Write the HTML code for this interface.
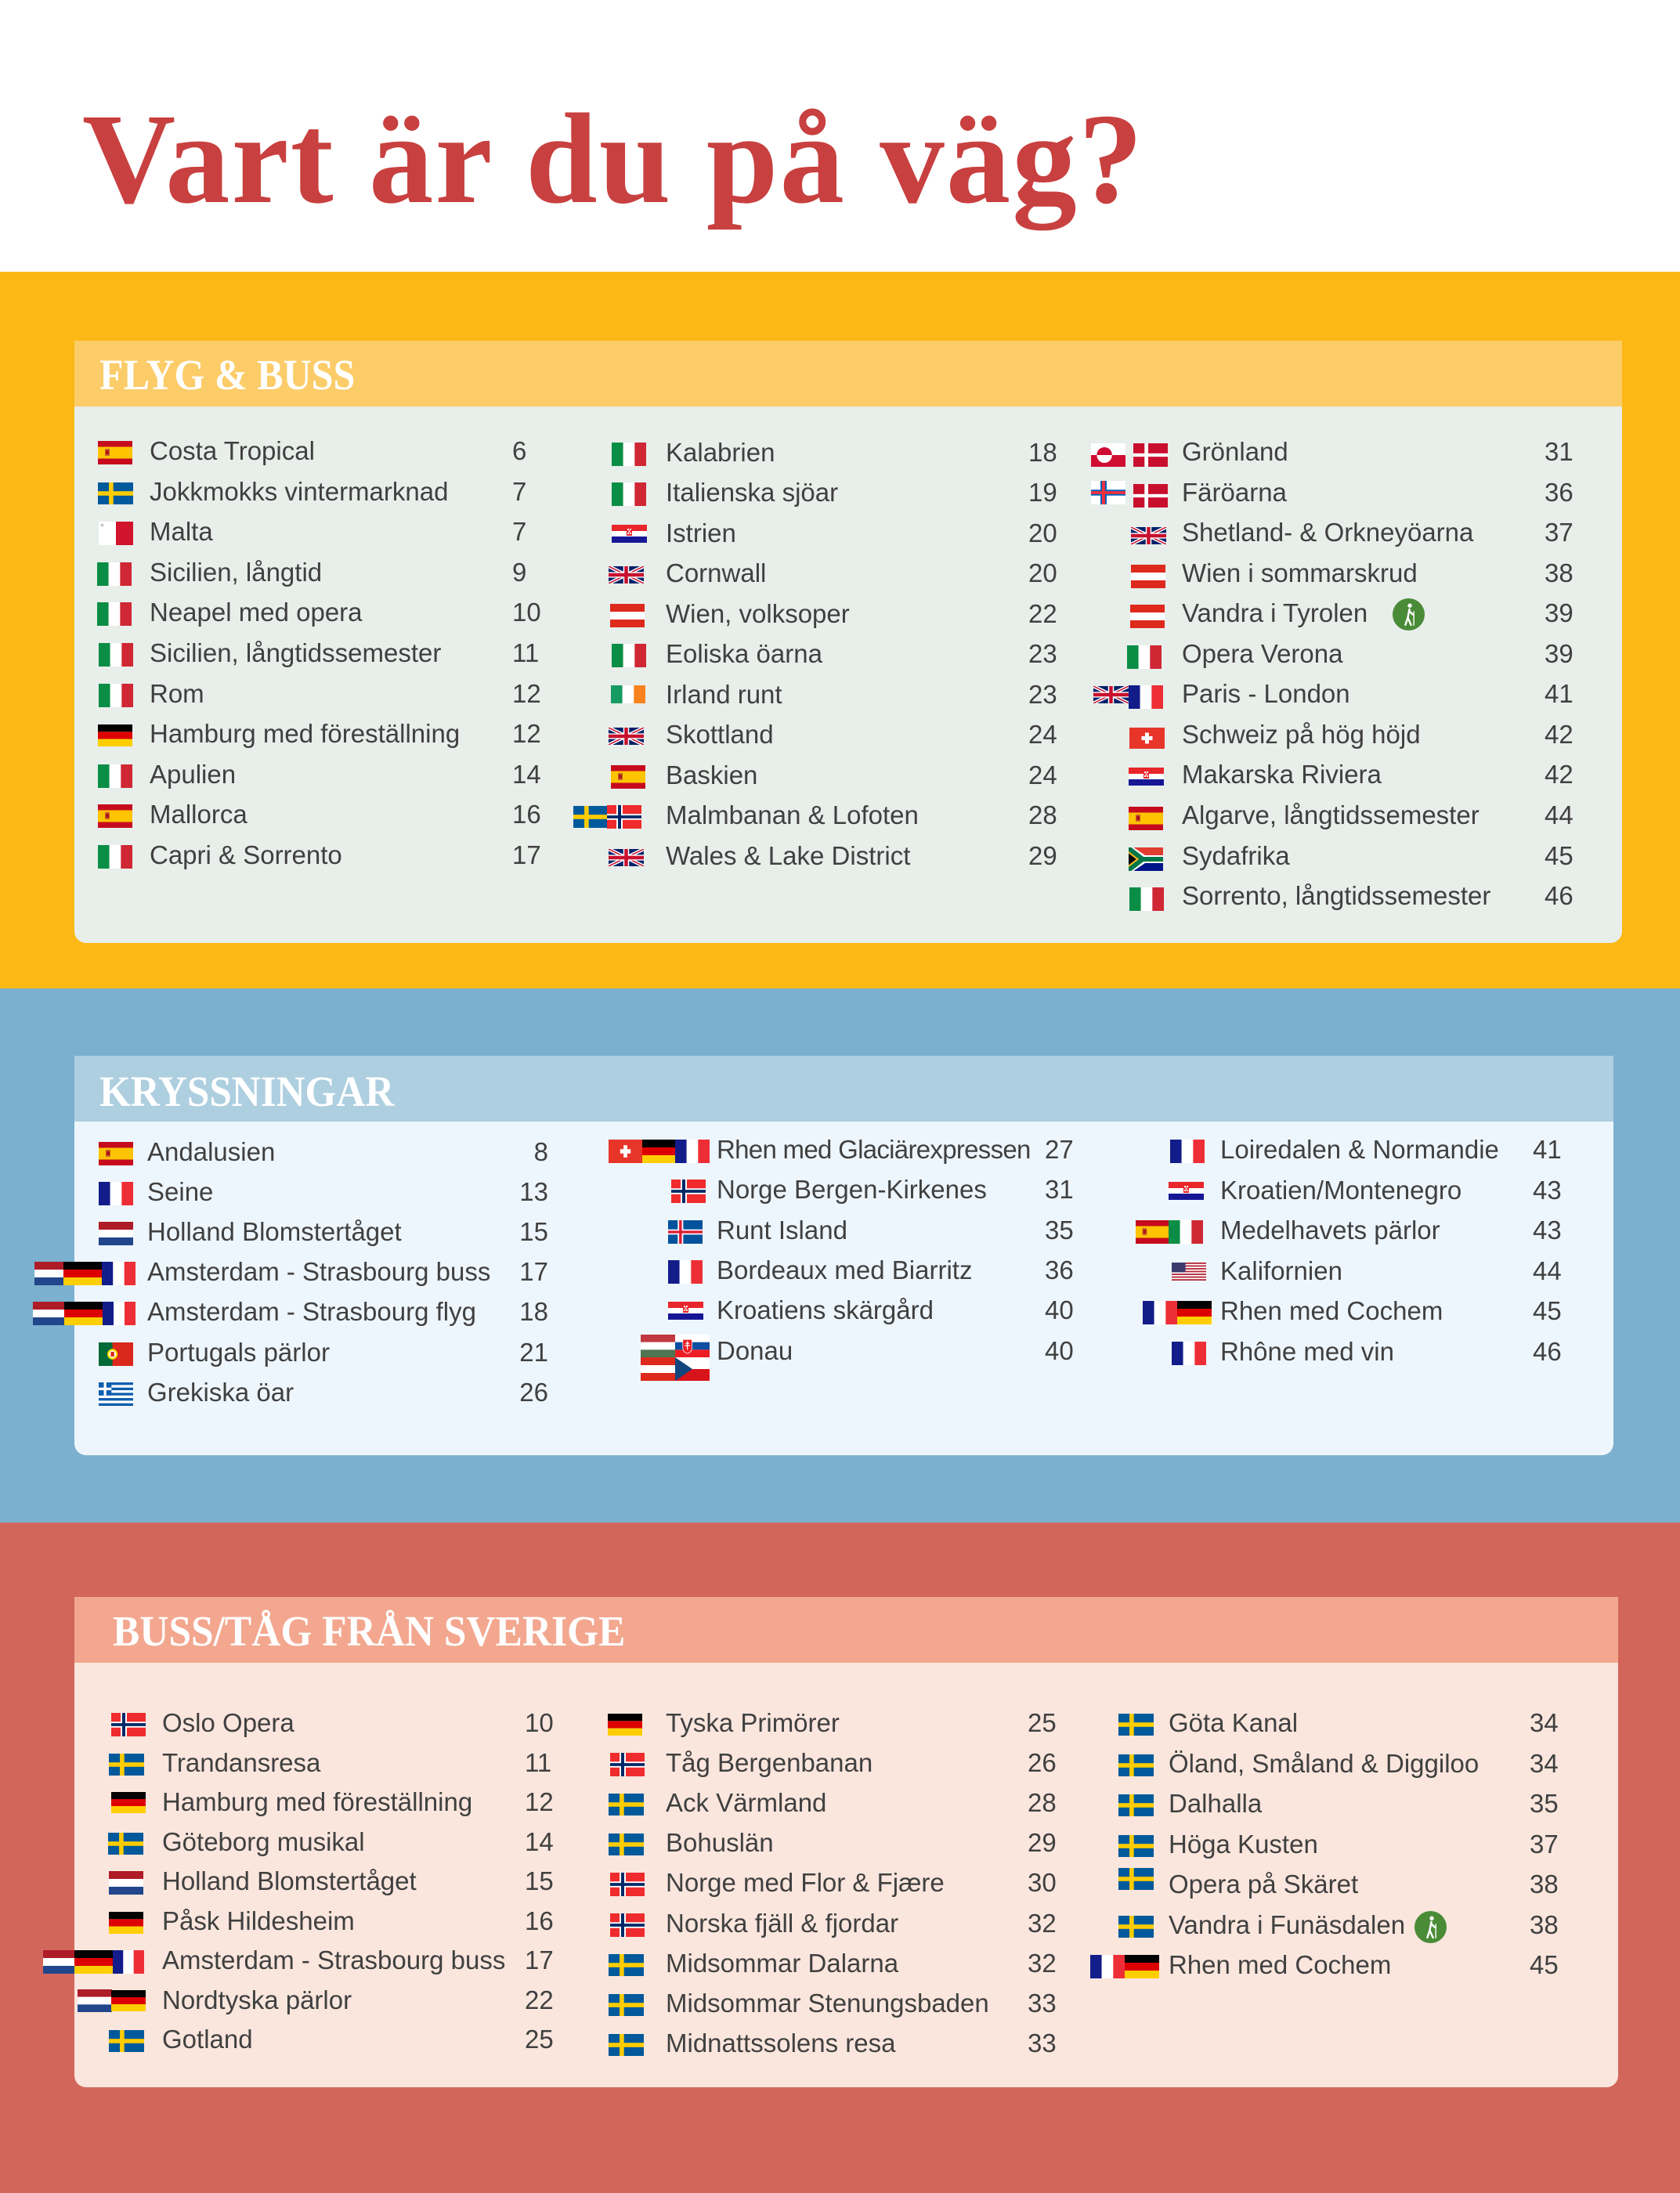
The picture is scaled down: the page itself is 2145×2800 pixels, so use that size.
<!DOCTYPE html>
<html><head><meta charset="utf-8">
<style>
body{margin:0;}
#p{position:relative;width:2145px;height:2800px;overflow:hidden;background:#fff;font-family:"Liberation Sans",sans-serif;color:#404040;}
.a{position:absolute}
.r{position:absolute;left:0;width:2145px;height:30px}
.t,.n{position:absolute;top:-2px;line-height:30px;font-size:33px;white-space:nowrap}
.f{position:absolute;top:0;width:44px;height:30px}
.uk{width:45px;height:22px;top:4px}
.hr{width:45px;height:23px;top:2px}
.us{height:23px;top:2px}
.ie{height:23px;top:1px}
.de{height:28px;top:1px}
.se{width:45px;height:28px;top:1px}
.ch{width:45px;height:27px;top:2px}
.h{position:absolute;font-family:"Liberation Serif",serif;font-weight:bold;font-size:55px;line-height:55px;color:#fff;transform-origin:0 0;white-space:nowrap}
.hk{position:absolute;width:41px;height:41px}
</style></head><body><div id="p">
<svg width="0" height="0" style="position:absolute">
<defs>
<symbol id="it" viewBox="0 0 3 2" preserveAspectRatio="none"><rect width="1" height="2" fill="#0a8e45"/><rect x="1" width="1" height="2" fill="#fff"/><rect x="2" width="1" height="2" fill="#cf2734"/></symbol>
<symbol id="ie" viewBox="0 0 3 2" preserveAspectRatio="none"><rect width="1" height="2" fill="#169b62"/><rect x="1" width="1" height="2" fill="#fff"/><rect x="2" width="1" height="2" fill="#f7821e"/></symbol>
<symbol id="fr" viewBox="0 0 3 2" preserveAspectRatio="none"><rect width="1" height="2" fill="#121d8a"/><rect x="1" width="1" height="2" fill="#fff"/><rect x="2" width="1" height="2" fill="#ee2e36"/></symbol>
<symbol id="de" viewBox="0 0 5 3" preserveAspectRatio="none"><rect width="5" height="1" fill="#000"/><rect y="1" width="5" height="1" fill="#dd0000"/><rect y="2" width="5" height="1" fill="#ffce00"/></symbol>
<symbol id="nl" viewBox="0 0 3 3" preserveAspectRatio="none"><rect width="3" height="1" fill="#ae1c28"/><rect y="1" width="3" height="1" fill="#fff"/><rect y="2" width="3" height="1" fill="#21468b"/></symbol>
<symbol id="at" viewBox="0 0 3 3" preserveAspectRatio="none"><rect width="3" height="1" fill="#dd2a1c"/><rect y="1" width="3" height="1" fill="#fff"/><rect y="2" width="3" height="1" fill="#dd2a1c"/></symbol>
<symbol id="hu" viewBox="0 0 3 3" preserveAspectRatio="none"><rect width="3" height="1" fill="#c0393f"/><rect y="1" width="3" height="1" fill="#fff"/><rect y="2" width="3" height="1" fill="#4f7552"/></symbol>
<symbol id="hr" viewBox="0 0 45 23" preserveAspectRatio="none"><rect width="45" height="8" fill="#e8262b"/><rect y="8" width="45" height="7" fill="#fff"/><rect y="15" width="45" height="8" fill="#171796"/><rect x="19" y="4" width="7" height="10" fill="#e8262b"/><rect x="20" y="5" width="2" height="2" fill="#fff"/><rect x="23" y="5" width="2" height="2" fill="#fff"/><rect x="21.5" y="7.5" width="2" height="2" fill="#fff"/><rect x="20" y="10" width="2" height="2" fill="#fff"/><rect x="23" y="10" width="2" height="2" fill="#fff"/></symbol>
<symbol id="es" viewBox="0 0 44 30" preserveAspectRatio="none"><rect width="44" height="30" fill="#c60b1e"/><rect y="7.5" width="44" height="15" fill="#ffc400"/><rect x="9" y="10" width="6" height="9" fill="#c8602a"/><rect x="10" y="12" width="4" height="5" fill="#ad1519"/></symbol>
<symbol id="se" viewBox="0 0 16 10" preserveAspectRatio="none"><rect width="16" height="10" fill="#00599b"/><rect x="5" width="2" height="10" fill="#fecc02"/><rect y="4" width="16" height="2" fill="#fecc02"/></symbol>
<symbol id="no" viewBox="0 0 22 16" preserveAspectRatio="none"><rect width="22" height="16" fill="#ef2b2d"/><rect x="6" width="4" height="16" fill="#fff"/><rect y="6" width="22" height="4" fill="#fff"/><rect x="7" width="2" height="16" fill="#002868"/><rect y="7" width="22" height="2" fill="#002868"/></symbol>
<symbol id="is" viewBox="0 0 25 18" preserveAspectRatio="none"><rect width="25" height="18" fill="#02529c"/><rect x="7" width="4" height="18" fill="#fff"/><rect y="7" width="25" height="4" fill="#fff"/><rect x="8" width="2" height="18" fill="#dc1e35"/><rect y="8" width="25" height="2" fill="#dc1e35"/></symbol>
<symbol id="fo" viewBox="0 0 22 16" preserveAspectRatio="none"><rect width="22" height="16" fill="#fff"/><rect x="6" width="4" height="16" fill="#0065bd"/><rect y="6" width="22" height="4" fill="#0065bd"/><rect x="7" width="2" height="16" fill="#ef303e"/><rect y="7" width="22" height="2" fill="#ef303e"/></symbol>
<symbol id="dk" viewBox="0 0 37 28" preserveAspectRatio="none"><rect width="37" height="28" fill="#c8102e"/><rect x="12" width="4" height="28" fill="#fff"/><rect y="12" width="37" height="4" fill="#fff"/></symbol>
<symbol id="gl" viewBox="0 0 18 12" preserveAspectRatio="none"><rect width="18" height="6" fill="#fff"/><rect y="6" width="18" height="6" fill="#d00c33"/><path d="M3 6a4 4 0 0 1 8 0z" fill="#d00c33"/><path d="M3 6a4 4 0 0 0 8 0z" fill="#fff"/></symbol>
<symbol id="ch" viewBox="0 0 45 27" preserveAspectRatio="none"><rect width="45" height="27" fill="#e8352a"/><rect x="20" y="6.5" width="5" height="14" fill="#fff"/><rect x="15.5" y="11" width="14" height="5" fill="#fff"/></symbol>
<symbol id="mt" viewBox="0 0 3 2" preserveAspectRatio="none"><rect width="1.5" height="2" fill="#fff"/><rect x="1.5" width="1.5" height="2" fill="#cf142b"/><path d="M0.3 0.15v0.3M0.15 0.3h0.3" stroke="#aaa" stroke-width="0.07"/></symbol>
<symbol id="pt" viewBox="0 0 30 20" preserveAspectRatio="none"><rect width="30" height="20" fill="#da291c"/><rect width="12" height="20" fill="#046a38"/><circle cx="12" cy="10" r="4.5" fill="#ffe000"/><circle cx="12" cy="10" r="3" fill="#fff"/><rect x="10.5" y="8" width="3" height="4" fill="#da291c"/></symbol>
<symbol id="gr" viewBox="0 0 27 18" preserveAspectRatio="none"><rect width="27" height="18" fill="#0d5eaf"/><rect y="2" width="27" height="2" fill="#fff"/><rect y="6" width="27" height="2" fill="#fff"/><rect y="10" width="27" height="2" fill="#fff"/><rect y="14" width="27" height="2" fill="#fff"/><rect width="10" height="10" fill="#0d5eaf"/><rect x="4" width="2" height="10" fill="#fff"/><rect y="4" width="10" height="2" fill="#fff"/></symbol>
<symbol id="us" viewBox="0 0 19 13" preserveAspectRatio="none"><rect width="19" height="13" fill="#b22234"/><rect y="1" width="19" height="1" fill="#fff"/><rect y="3" width="19" height="1" fill="#fff"/><rect y="5" width="19" height="1" fill="#fff"/><rect y="7" width="19" height="1" fill="#fff"/><rect y="9" width="19" height="1" fill="#fff"/><rect y="11" width="19" height="1" fill="#fff"/><rect width="7.6" height="7" fill="#3c3b6e"/></symbol>
<symbol id="sk" viewBox="0 0 9 6" preserveAspectRatio="none"><rect width="9" height="2" fill="#fff"/><rect y="2" width="9" height="2" fill="#0b4ea2"/><rect y="4" width="9" height="2" fill="#ee1c25"/><path d="M2 1.3h2.4v2.2q0 1.1-1.2 1.5q-1.2-0.4-1.2-1.5z" fill="#ee1c25" stroke="#fff" stroke-width="0.15"/><path d="M3.2 1.7v2.3M2.7 2.3h1M2.5 2.9h1.4" stroke="#fff" stroke-width="0.25"/></symbol>
<symbol id="cz" viewBox="0 0 3 2" preserveAspectRatio="none"><rect width="3" height="1" fill="#fff"/><rect y="1" width="3" height="1" fill="#d7141a"/><path d="M0 0L1.5 1L0 2z" fill="#11457e"/></symbol>
<symbol id="za" viewBox="0 0 900 600" preserveAspectRatio="none"><rect width="900" height="600" fill="#001489"/><rect width="900" height="300" fill="#e03c31"/><path d="M0 0H130L430 200H900V400H430L130 600H0z" fill="#fff"/><path d="M0 0H70L390 240H900V360H390L70 600H0z" fill="#007749"/><path d="M0 100L270 300L0 500z" fill="#ffb81c"/><path d="M0 150L200 300L0 450z" fill="#000"/></symbol>
<symbol id="uk" viewBox="0 0 60 30" preserveAspectRatio="none"><rect width="60" height="30" fill="#012169"/><path d="M0 0L60 30M60 0L0 30" stroke="#fff" stroke-width="6"/><path d="M0 0L60 30M60 0L0 30" stroke="#c8102e" stroke-width="2"/><path d="M30 0V30M0 15H60" stroke="#fff" stroke-width="10"/><path d="M30 0V30M0 15H60" stroke="#c8102e" stroke-width="6"/></symbol>
<symbol id="hike" viewBox="0 0 40 40"><circle cx="20" cy="20" r="20" fill="#4a8b37"/><circle cx="21.5" cy="9" r="2.6" fill="#fff"/><path d="M21 13.5L19 24L16 33M19 24L23 33M20.5 15.5L25 20" stroke="#fff" stroke-width="2.4" fill="none" stroke-linecap="round"/><path d="M26.5 16V34" stroke="#fff" stroke-width="1.4"/></symbol>
</defs>
</svg>

<!-- bands -->
<div class="a" style="left:0;top:347px;width:2145px;height:915px;background:#fbb817"></div>
<div class="a" style="left:0;top:1262px;width:2145px;height:682px;background:#7bb0ce"></div>
<div class="a" style="left:0;top:1944px;width:2145px;height:856px;background:#d3665a"></div>

<!-- title -->
<div class="a" style="left:105px;top:120px;font-family:'Liberation Serif',serif;font-weight:bold;font-size:165px;line-height:165px;color:#c8403f;white-space:nowrap;letter-spacing:2px">Vart är du på väg?</div>

<!-- cards -->
<div class="a" style="left:95px;top:435px;width:1976px;height:769px;background:#e8eeea;border-radius:0 0 15px 15px"></div>
<div class="a" style="left:95px;top:435px;width:1976px;height:84px;background:#fccc69"></div>
<div class="h" style="left:127px;top:451px;transform:scaleX(0.91)">FLYG &amp; BUSS</div>

<div class="a" style="left:95px;top:1348px;width:1965px;height:510px;background:#eef6fd;border-radius:0 0 15px 15px"></div>
<div class="a" style="left:95px;top:1348px;width:1965px;height:84px;background:#adcfe0"></div>
<div class="h" style="left:127px;top:1366px;transform:scaleX(0.93)">KRYSSNINGAR</div>

<div class="a" style="left:95px;top:2039px;width:1971px;height:626px;background:#fae6dd;border-radius:0 0 15px 15px"></div>
<div class="a" style="left:95px;top:2039px;width:1971px;height:84px;background:#f3a78f"></div>
<div class="h" style="left:144px;top:2055px;transform:scaleX(0.935)">BUSS/TÅG FRÅN SVERIGE</div>

<!-- YELLOW col1 -->
<div class="r" style="top:563px"><svg class="f" style="left:125px"><use href="#es" width="100%" height="100%"/></svg><span class="t" style="left:191px">Costa Tropical</span><span class="n" style="left:654px">6</span></div>
<div class="r" style="top:615px"><svg class="f se" style="left:125px"><use href="#se" width="100%" height="100%"/></svg><span class="t" style="left:191px">Jokkmokks vintermarknad</span><span class="n" style="left:654px">7</span></div>
<div class="r" style="top:666px"><svg class="f" style="left:126px"><use href="#mt" width="100%" height="100%"/></svg><span class="t" style="left:191px">Malta</span><span class="n" style="left:654px">7</span></div>
<div class="r" style="top:718px"><svg class="f" style="left:124px"><use href="#it" width="100%" height="100%"/></svg><span class="t" style="left:191px">Sicilien, långtid</span><span class="n" style="left:654px">9</span></div>
<div class="r" style="top:769px"><svg class="f" style="left:124px"><use href="#it" width="100%" height="100%"/></svg><span class="t" style="left:191px">Neapel med opera</span><span class="n" style="left:654px">10</span></div>
<div class="r" style="top:821px"><svg class="f" style="left:126px"><use href="#it" width="100%" height="100%"/></svg><span class="t" style="left:191px">Sicilien, långtidssemester</span><span class="n" style="left:654px">11</span></div>
<div class="r" style="top:873px"><svg class="f" style="left:126px"><use href="#it" width="100%" height="100%"/></svg><span class="t" style="left:191px">Rom</span><span class="n" style="left:654px">12</span></div>
<div class="r" style="top:924px"><svg class="f de" style="left:125px"><use href="#de" width="100%" height="100%"/></svg><span class="t" style="left:191px">Hamburg med föreställning</span><span class="n" style="left:654px">12</span></div>
<div class="r" style="top:976px"><svg class="f" style="left:125px"><use href="#it" width="100%" height="100%"/></svg><span class="t" style="left:191px">Apulien</span><span class="n" style="left:654px">14</span></div>
<div class="r" style="top:1027px"><svg class="f" style="left:125px"><use href="#es" width="100%" height="100%"/></svg><span class="t" style="left:191px">Mallorca</span><span class="n" style="left:654px">16</span></div>
<div class="r" style="top:1079px"><svg class="f" style="left:125px"><use href="#it" width="100%" height="100%"/></svg><span class="t" style="left:191px">Capri &amp; Sorrento</span><span class="n" style="left:654px">17</span></div>

<!-- YELLOW col2 -->
<div class="r" style="top:565px"><svg class="f" style="left:781px"><use href="#it" width="100%" height="100%"/></svg><span class="t" style="left:850px">Kalabrien</span><span class="n" style="left:1313px">18</span></div>
<div class="r" style="top:616px"><svg class="f" style="left:781px"><use href="#it" width="100%" height="100%"/></svg><span class="t" style="left:850px">Italienska sjöar</span><span class="n" style="left:1313px">19</span></div>
<div class="r" style="top:668px"><svg class="f hr" style="left:781px"><use href="#hr" width="100%" height="100%"/></svg><span class="t" style="left:850px">Istrien</span><span class="n" style="left:1313px">20</span></div>
<div class="r" style="top:719px"><svg class="f uk" style="left:777px"><use href="#uk" width="100%" height="100%"/></svg><span class="t" style="left:850px">Cornwall</span><span class="n" style="left:1313px">20</span></div>
<div class="r" style="top:771px"><svg class="f" style="left:779px"><use href="#at" width="100%" height="100%"/></svg><span class="t" style="left:850px">Wien, volksoper</span><span class="n" style="left:1313px">22</span></div>
<div class="r" style="top:822px"><svg class="f" style="left:781px"><use href="#it" width="100%" height="100%"/></svg><span class="t" style="left:850px">Eoliska öarna</span><span class="n" style="left:1313px">23</span></div>
<div class="r" style="top:874px"><svg class="f ie" style="left:780px"><use href="#ie" width="100%" height="100%"/></svg><span class="t" style="left:850px">Irland runt</span><span class="n" style="left:1313px">23</span></div>
<div class="r" style="top:925px"><svg class="f uk" style="left:777px"><use href="#uk" width="100%" height="100%"/></svg><span class="t" style="left:850px">Skottland</span><span class="n" style="left:1313px">24</span></div>
<div class="r" style="top:977px"><svg class="f" style="left:780px"><use href="#es" width="100%" height="100%"/></svg><span class="t" style="left:850px">Baskien</span><span class="n" style="left:1313px">24</span></div>
<div class="r" style="top:1028px"><svg class="f se" style="left:732px"><use href="#se" width="100%" height="100%"/></svg><svg class="f" style="left:775px"><use href="#no" width="100%" height="100%"/></svg><span class="t" style="left:850px">Malmbanan &amp; Lofoten</span><span class="n" style="left:1313px">28</span></div>
<div class="r" style="top:1080px"><svg class="f uk" style="left:777px"><use href="#uk" width="100%" height="100%"/></svg><span class="t" style="left:850px">Wales &amp; Lake District</span><span class="n" style="left:1313px">29</span></div>

<!-- YELLOW col3 -->
<div class="r" style="top:566px"><svg class="f" style="left:1393px"><use href="#gl" width="100%" height="100%"/></svg><svg class="f" style="left:1447px"><use href="#dk" width="100%" height="100%"/></svg><span class="t" style="left:1509px;top:-4px">Grönland</span><span class="n" style="left:1972px;top:-4px">31</span></div>
<div class="r" style="top:618px"><svg class="f" style="left:1393px;top:-4px"><use href="#fo" width="100%" height="100%"/></svg><svg class="f" style="left:1447px"><use href="#dk" width="100%" height="100%"/></svg><span class="t" style="left:1509px;top:-4px">Färöarna</span><span class="n" style="left:1972px;top:-4px">36</span></div>
<div class="r" style="top:669px"><svg class="f uk" style="left:1444px"><use href="#uk" width="100%" height="100%"/></svg><span class="t" style="left:1509px;top:-4px">Shetland- &amp; Orkneyöarna</span><span class="n" style="left:1972px;top:-4px">37</span></div>
<div class="r" style="top:721px"><svg class="f" style="left:1444px"><use href="#at" width="100%" height="100%"/></svg><span class="t" style="left:1509px;top:-4px">Wien i sommarskrud</span><span class="n" style="left:1972px;top:-4px">38</span></div>
<div class="r" style="top:772px"><svg class="f" style="left:1443px"><use href="#at" width="100%" height="100%"/></svg><span class="t" style="left:1509px;top:-4px">Vandra i Tyrolen</span><span class="n" style="left:1972px;top:-4px">39</span></div>
<svg class="hk" style="left:1778px;top:764px"><use href="#hike" width="100%" height="100%"/></svg>
<div class="r" style="top:824px"><svg class="f" style="left:1439px"><use href="#it" width="100%" height="100%"/></svg><span class="t" style="left:1509px;top:-4px">Opera Verona</span><span class="n" style="left:1972px;top:-4px">39</span></div>
<div class="r" style="top:875px"><svg class="f uk" style="left:1396px;top:1px"><use href="#uk" width="100%" height="100%"/></svg><svg class="f" style="left:1441px"><use href="#fr" width="100%" height="100%"/></svg><span class="t" style="left:1509px;top:-4px">Paris - London</span><span class="n" style="left:1972px;top:-4px">41</span></div>
<div class="r" style="top:927px"><svg class="f ch" style="left:1442px"><use href="#ch" width="100%" height="100%"/></svg><span class="t" style="left:1509px;top:-4px">Schweiz på hög höjd</span><span class="n" style="left:1972px;top:-4px">42</span></div>
<div class="r" style="top:978px"><svg class="f hr" style="left:1441px"><use href="#hr" width="100%" height="100%"/></svg><span class="t" style="left:1509px;top:-4px">Makarska Riviera</span><span class="n" style="left:1972px;top:-4px">42</span></div>
<div class="r" style="top:1030px"><svg class="f" style="left:1441px"><use href="#es" width="100%" height="100%"/></svg><span class="t" style="left:1509px;top:-4px">Algarve, långtidssemester</span><span class="n" style="left:1972px;top:-4px">44</span></div>
<div class="r" style="top:1082px"><svg class="f" style="left:1441px"><use href="#za" width="100%" height="100%"/></svg><span class="t" style="left:1509px;top:-4px">Sydafrika</span><span class="n" style="left:1972px;top:-4px">45</span></div>
<div class="r" style="top:1133px"><svg class="f" style="left:1442px"><use href="#it" width="100%" height="100%"/></svg><span class="t" style="left:1509px;top:-4px">Sorrento, långtidssemester</span><span class="n" style="left:1972px;top:-4px">46</span></div>

<!-- BLUE col1 -->
<div class="r" style="top:1458px"><svg class="f" style="left:126px"><use href="#es" width="100%" height="100%"/></svg><span class="t" style="left:188px">Andalusien</span><span class="n" style="right:1445px">8</span></div>
<div class="r" style="top:1509px"><svg class="f" style="left:126px"><use href="#fr" width="100%" height="100%"/></svg><span class="t" style="left:188px">Seine</span><span class="n" style="right:1445px">13</span></div>
<div class="r" style="top:1560px"><svg class="f" style="left:126px"><use href="#nl" width="100%" height="100%"/></svg><span class="t" style="left:188px">Holland Blomstertåget</span><span class="n" style="right:1445px">15</span></div>
<div class="r" style="top:1611px"><svg class="f" style="left:44px"><use href="#nl" width="100%" height="100%"/></svg><svg class="f" style="left:81px;width:49px"><use href="#de" width="100%" height="100%"/></svg><svg class="f" style="left:130px;width:43px"><use href="#fr" width="100%" height="100%"/></svg><span class="t" style="left:188px">Amsterdam - Strasbourg buss</span><span class="n" style="right:1445px">17</span></div>
<div class="r" style="top:1662px"><svg class="f" style="left:42px"><use href="#nl" width="100%" height="100%"/></svg><svg class="f" style="left:82px;width:49px"><use href="#de" width="100%" height="100%"/></svg><svg class="f" style="left:131px;width:42px"><use href="#fr" width="100%" height="100%"/></svg><span class="t" style="left:188px">Amsterdam - Strasbourg flyg</span><span class="n" style="right:1445px">18</span></div>
<div class="r" style="top:1714px"><svg class="f" style="left:126px"><use href="#pt" width="100%" height="100%"/></svg><span class="t" style="left:188px">Portugals pärlor</span><span class="n" style="right:1445px">21</span></div>
<div class="r" style="top:1765px"><svg class="f" style="left:126px"><use href="#gr" width="100%" height="100%"/></svg><span class="t" style="left:188px">Grekiska öar</span><span class="n" style="right:1445px">26</span></div>

<!-- BLUE col2 -->
<div class="r" style="top:1455px"><svg class="f" style="left:777px;width:43px"><use href="#ch" width="100%" height="100%"/></svg><svg class="f" style="left:820px;width:42px"><use href="#de" width="100%" height="100%"/></svg><svg class="f" style="left:862px"><use href="#fr" width="100%" height="100%"/></svg><span class="t" style="left:915px;letter-spacing:-0.7px">Rhen med Glaciärexpressen</span><span class="n" style="left:1334px">27</span></div>
<div class="r" style="top:1506px"><svg class="f" style="left:857px"><use href="#no" width="100%" height="100%"/></svg><span class="t" style="left:915px">Norge Bergen-Kirkenes</span><span class="n" style="left:1334px">31</span></div>
<div class="r" style="top:1558px"><svg class="f" style="left:853px"><use href="#is" width="100%" height="100%"/></svg><span class="t" style="left:915px">Runt Island</span><span class="n" style="left:1334px">35</span></div>
<div class="r" style="top:1609px"><svg class="f" style="left:853px"><use href="#fr" width="100%" height="100%"/></svg><span class="t" style="left:915px">Bordeaux med Biarritz</span><span class="n" style="left:1334px">36</span></div>
<div class="r" style="top:1660px"><svg class="f hr" style="left:853px"><use href="#hr" width="100%" height="100%"/></svg><span class="t" style="left:915px">Kroatiens skärgård</span><span class="n" style="left:1334px">40</span></div>
<div class="r" style="top:1712px"><svg class="f" style="left:818px;top:-8px;height:29px"><use href="#hu" width="100%" height="100%"/></svg><svg class="f" style="left:862px;top:-8px;height:29px"><use href="#sk" width="100%" height="100%"/></svg><svg class="f" style="left:818px;top:21px;height:30px"><use href="#at" width="100%" height="100%"/></svg><svg class="f" style="left:862px;top:21px;height:30px"><use href="#cz" width="100%" height="100%"/></svg><span class="t" style="left:915px">Donau</span><span class="n" style="left:1334px">40</span></div>

<!-- BLUE col3 -->
<div class="r" style="top:1455px"><svg class="f" style="left:1494px"><use href="#fr" width="100%" height="100%"/></svg><span class="t" style="left:1558px">Loiredalen &amp; Normandie</span><span class="n" style="left:1957px">41</span></div>
<div class="r" style="top:1507px"><svg class="f hr" style="left:1492px"><use href="#hr" width="100%" height="100%"/></svg><span class="t" style="left:1558px">Kroatien/Montenegro</span><span class="n" style="left:1957px">43</span></div>
<div class="r" style="top:1558px"><svg class="f" style="left:1450px;width:42px"><use href="#es" width="100%" height="100%"/></svg><svg class="f" style="left:1492px"><use href="#it" width="100%" height="100%"/></svg><span class="t" style="left:1558px">Medelhavets pärlor</span><span class="n" style="left:1957px">43</span></div>
<div class="r" style="top:1610px"><svg class="f us" style="left:1496px"><use href="#us" width="100%" height="100%"/></svg><span class="t" style="left:1558px">Kalifornien</span><span class="n" style="left:1957px">44</span></div>
<div class="r" style="top:1661px"><svg class="f" style="left:1459px"><use href="#fr" width="100%" height="100%"/></svg><svg class="f" style="left:1503px"><use href="#de" width="100%" height="100%"/></svg><span class="t" style="left:1558px">Rhen med Cochem</span><span class="n" style="left:1957px">45</span></div>
<div class="r" style="top:1713px"><svg class="f" style="left:1496px"><use href="#fr" width="100%" height="100%"/></svg><span class="t" style="left:1558px">Rhône med vin</span><span class="n" style="left:1957px">46</span></div>

<!-- RED col1 -->
<div class="r" style="top:2187px"><svg class="f" style="left:142px"><use href="#no" width="100%" height="100%"/></svg><span class="t" style="left:207px">Oslo Opera</span><span class="n" style="left:670px">10</span></div>
<div class="r" style="top:2238px"><svg class="f se" style="left:139px"><use href="#se" width="100%" height="100%"/></svg><span class="t" style="left:207px">Trandansresa</span><span class="n" style="left:670px">11</span></div>
<div class="r" style="top:2288px"><svg class="f de" style="left:142px;top:0;height:27px"><use href="#de" width="100%" height="100%"/></svg><span class="t" style="left:207px">Hamburg med föreställning</span><span class="n" style="left:670px">12</span></div>
<div class="r" style="top:2339px"><svg class="f se" style="left:138px"><use href="#se" width="100%" height="100%"/></svg><span class="t" style="left:207px">Göteborg musikal</span><span class="n" style="left:670px">14</span></div>
<div class="r" style="top:2389px"><svg class="f" style="left:139px"><use href="#nl" width="100%" height="100%"/></svg><span class="t" style="left:207px">Holland Blomstertåget</span><span class="n" style="left:670px">15</span></div>
<div class="r" style="top:2440px"><svg class="f de" style="left:139px"><use href="#de" width="100%" height="100%"/></svg><span class="t" style="left:207px">Påsk Hildesheim</span><span class="n" style="left:670px">16</span></div>
<div class="r" style="top:2490px"><svg class="f" style="left:55px"><use href="#nl" width="100%" height="100%"/></svg><svg class="f" style="left:95px;width:49px"><use href="#de" width="100%" height="100%"/></svg><svg class="f" style="left:144px;width:40px"><use href="#fr" width="100%" height="100%"/></svg><span class="t" style="left:207px">Amsterdam - Strasbourg buss</span><span class="n" style="left:670px">17</span></div>
<div class="r" style="top:2541px"><svg class="f" style="left:99px;top:-1px;height:29px"><use href="#nl" width="100%" height="100%"/></svg><svg class="f de" style="left:142px;top:0;height:27px"><use href="#de" width="100%" height="100%"/></svg><span class="t" style="left:207px">Nordtyska pärlor</span><span class="n" style="left:670px">22</span></div>
<div class="r" style="top:2591px"><svg class="f se" style="left:139px"><use href="#se" width="100%" height="100%"/></svg><span class="t" style="left:207px">Gotland</span><span class="n" style="left:670px">25</span></div>

<!-- RED col2 -->
<div class="r" style="top:2187px"><svg class="f de" style="left:776px"><use href="#de" width="100%" height="100%"/></svg><span class="t" style="left:850px">Tyska Primörer</span><span class="n" style="left:1312px">25</span></div>
<div class="r" style="top:2238px"><svg class="f" style="left:779px"><use href="#no" width="100%" height="100%"/></svg><span class="t" style="left:850px">Tåg Bergenbanan</span><span class="n" style="left:1312px">26</span></div>
<div class="r" style="top:2289px"><svg class="f se" style="left:777px"><use href="#se" width="100%" height="100%"/></svg><span class="t" style="left:850px">Ack Värmland</span><span class="n" style="left:1312px">28</span></div>
<div class="r" style="top:2340px"><svg class="f se" style="left:777px"><use href="#se" width="100%" height="100%"/></svg><span class="t" style="left:850px">Bohuslän</span><span class="n" style="left:1312px">29</span></div>
<div class="r" style="top:2391px"><svg class="f" style="left:779px"><use href="#no" width="100%" height="100%"/></svg><span class="t" style="left:850px">Norge med Flor &amp; Fjære</span><span class="n" style="left:1312px">30</span></div>
<div class="r" style="top:2443px"><svg class="f" style="left:779px"><use href="#no" width="100%" height="100%"/></svg><span class="t" style="left:850px">Norska fjäll &amp; fjordar</span><span class="n" style="left:1312px">32</span></div>
<div class="r" style="top:2494px"><svg class="f se" style="left:777px"><use href="#se" width="100%" height="100%"/></svg><span class="t" style="left:850px">Midsommar Dalarna</span><span class="n" style="left:1312px">32</span></div>
<div class="r" style="top:2545px"><svg class="f se" style="left:777px"><use href="#se" width="100%" height="100%"/></svg><span class="t" style="left:850px">Midsommar Stenungsbaden</span><span class="n" style="left:1312px">33</span></div>
<div class="r" style="top:2596px"><svg class="f se" style="left:777px"><use href="#se" width="100%" height="100%"/></svg><span class="t" style="left:850px">Midnattssolens resa</span><span class="n" style="left:1312px">33</span></div>

<!-- RED col3 -->
<div class="r" style="top:2187px"><svg class="f se" style="left:1428px"><use href="#se" width="100%" height="100%"/></svg><span class="t" style="left:1492px">Göta Kanal</span><span class="n" style="left:1953px">34</span></div>
<div class="r" style="top:2239px"><svg class="f se" style="left:1428px"><use href="#se" width="100%" height="100%"/></svg><span class="t" style="left:1492px">Öland, Småland &amp; Diggiloo</span><span class="n" style="left:1953px">34</span></div>
<div class="r" style="top:2290px"><svg class="f se" style="left:1428px"><use href="#se" width="100%" height="100%"/></svg><span class="t" style="left:1492px">Dalhalla</span><span class="n" style="left:1953px">35</span></div>
<div class="r" style="top:2342px"><svg class="f se" style="left:1428px"><use href="#se" width="100%" height="100%"/></svg><span class="t" style="left:1492px">Höga Kusten</span><span class="n" style="left:1953px">37</span></div>
<div class="r" style="top:2393px"><svg class="f se" style="left:1428px;top:-8px"><use href="#se" width="100%" height="100%"/></svg><span class="t" style="left:1492px">Opera på Skäret</span><span class="n" style="left:1953px">38</span></div>
<div class="r" style="top:2445px"><svg class="f se" style="left:1428px"><use href="#se" width="100%" height="100%"/></svg><span class="t" style="left:1492px">Vandra i Funäsdalen</span><span class="n" style="left:1953px">38</span></div>
<svg class="hk" style="left:1806px;top:2440px"><use href="#hike" width="100%" height="100%"/></svg>
<div class="r" style="top:2496px"><svg class="f" style="left:1392px"><use href="#fr" width="100%" height="100%"/></svg><svg class="f" style="left:1436px"><use href="#de" width="100%" height="100%"/></svg><span class="t" style="left:1492px">Rhen med Cochem</span><span class="n" style="left:1953px">45</span></div>

</div></body></html>
